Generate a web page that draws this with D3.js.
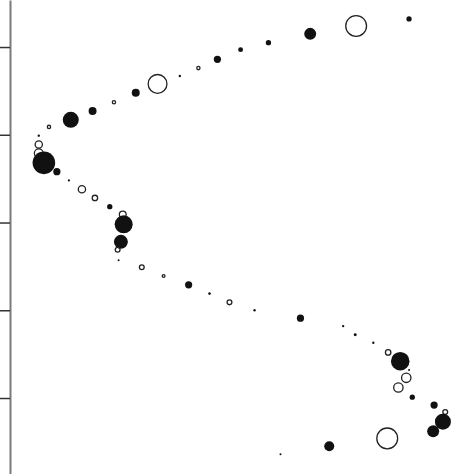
<!DOCTYPE html>
<html>
<head>
<meta charset="utf-8">
<script src="https://cdn.jsdelivr.net/npm/d3@7"></script>
<style>
  body { margin: 0; background: #fff; }
  #chart { width: 474px; height: 474px; }
</style>
</head>
<body>
<div id="chart"></div>
<script>
// position along the series (vertical)
var depth = [-3.2, -2.4, -1.5, -0.5, 0.3, 1.4, 2.4, 3.3, 4.2, 5.2,
             6.3, 7.3, 8.3, 9.1, 10.1, 11.1, 12.1, 13.2, 14.2, 15.2,
             16.2, 17.2, 18.2, 19.1, 20.2, 22.2, 23.1, 24.3, 25.1, 26.1,
             27.1, 28.1, 29.1, 30.0, 30.9, 31.8, 32.8, 33.7, 34.8, 35.8,
             36.8, 37.7, 38.8, 39.9, 40.8, 41.6, 42.7, 43.8, 44.6, 45.5, 46.4];
// horizontal value
var level = [86.0, 74.6, 64.7, 55.7, 49.7, 44.7, 40.6, 36.6, 31.8, 27.1,
             22.4, 17.8, 13.1, 8.4, 6.2, 6.2, 6.2, 7.3, 10.1, 12.7,
             15.5, 18.3, 21.5, 24.3, 24.5, 23.9, 23.2, 23.4, 28.4, 33.1,
             38.5, 43.0, 47.3, 52.7, 62.6, 71.8, 74.4, 78.3, 81.5, 84.1,
             86.0, 85.4, 83.7, 86.7, 91.4, 93.8, 93.3, 91.2, 81.3, 68.8, 58.3];
// signed amplitude: > 0 drawn filled, < 0 drawn open
var amplitude = [7, -121, 36, 7, 6, 13, -5, 1.4, -100, 16,
                 -5, 16, 64, -5, 1.4, -18, -25, 128, 13, 1.2,
                 -18, -11, 7, -16, 81, 49, -9, 1, -9, -4,
                 13, 1.7, -9, 1.4, 13, 1.4, 2.2, 1.4, -11, 86,
                 1, -28, -28, 7, 13, -9, 64, 36, -121, 25, 1];

var W = 474, H = 474;
var margin = {left: 10};

var svg = d3.select("#chart")
        .append("svg")
        .attr("width", W)
        .attr("height", H);

var x = d3.scaleLinear()
        .domain([0, 100])
        .range([margin.left, W]);

var y = d3.scaleLinear()
        .domain([-5.36, 48.66])
        .range([0, H]);

var r = d3.scaleSqrt()
        .domain([0, 121])
        .range([0, 11]);

var points = depth.map((d, i) => {
    return {depth: d, level: level[i], amp: amplitude[i]};
});

// left axis, labels fall outside the frame
var axis = svg.append("g")
        .attr("transform", "translate(" + margin.left + ",0)")
        .call(d3.axisLeft(y)
            .tickValues([0, 10, 20, 30, 40])
            .tickSizeInner(10)
            .tickSizeOuter(0)
            .tickFormat(""));
axis.select(".domain")
        .attr("stroke", "#7a7a7a")
        .attr("stroke-width", 2);
axis.selectAll(".tick line")
        .attr("stroke", "#333")
        .attr("stroke-width", 1.5);

svg.append("g")
        .selectAll("circle")
        .data(points)
        .enter()
        .append("circle")
        .attr("cx", (d) => x(d.level))
        .attr("cy", (d) => y(d.depth))
        .attr("r", (d) => {
            var rr = r(Math.abs(d.amp));
            return d.amp < 0 ? rr - 0.6 : rr;
        })
        .attr("fill", (d) => d.amp < 0 ? "none" : "#111")
        .attr("stroke", (d) => d.amp < 0 ? "#222" : "none")
        .attr("stroke-width", 1.3);
</script>
</body>
</html>
